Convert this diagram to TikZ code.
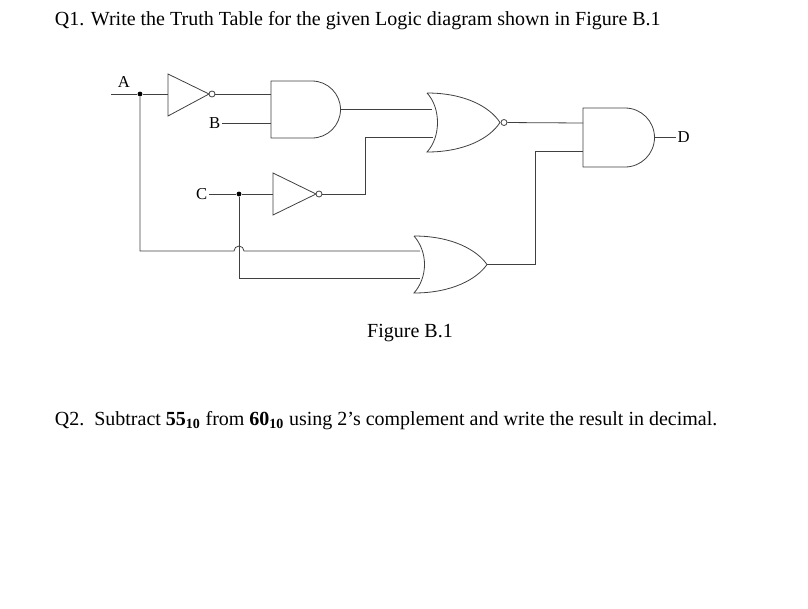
\documentclass[tikz,border=0pt]{standalone}
\usepackage{fontspec}
\setmainfont{Liberation Serif}
\begin{document}
\begin{tikzpicture}[x=0.75pt,y=-0.75pt,line width=0.6pt,
  wire/.style={draw=black!75},
  gate/.style={draw=black!75,fill=white},
  dot/.style={circle,fill=black,inner sep=1.3pt},
  bub/.style={circle,draw=black!75,fill=white,inner sep=1.6pt},
  lbl/.style={font=\fontsize{12.5}{14}\selectfont,inner sep=1pt},
  txt/.style={font=\fontsize{15}{17}\selectfont}]
\useasboundingbox (0,0) rectangle (808,608);

% texts
\node[anchor=west,txt] (q1) at (50,21) {Q1. Write the Truth Table for the given Logic diagram shown in Figure B.1};
\node[txt] (fig) at (410,333) {Figure B.1};
\node[anchor=west,txt] (q2) at (50,421) {Q2.\ \ Subtract \textbf{55\textsubscript{10}} from \textbf{60\textsubscript{10}} using 2's complement and write the result in decimal.};

% inputs
\node[lbl] (A) at (124,82) {A};
\node[lbl,anchor=east] (B) at (222,123) {B};
\node[lbl,anchor=east] (C) at (209,194) {C};
\coordinate (Ain) at (111,94);
\node[dot] (ja) at (140,94) {};
\node[dot] (jc) at (239,194) {};

% NOT gates
\draw[gate] (168,74) -- (209,94) -- (168,116) -- cycle;
\node[bub] (n1) at (212,94) {};
\draw[gate] (273,173) -- (316,194) -- (273,215) -- cycle;
\node[bub] (n2) at (319,194) {};

% AND 1
\draw[gate] (312,81) -- (271,81) -- (271,138) -- (312,138) arc (90:-90:28.5) -- cycle;
\coordinate (and1o) at (340.5,109.5);
% NOR
\draw[gate] (427,93) .. controls (441,108) and (441,137) .. (427,152)
  .. controls (465,152) and (490,138) .. (500,122.5)
  .. controls (490,107) and (465,93) .. (427,93);
\node[bub] (nor) at (504,122.5) {};
% AND 2
\draw[gate] (625,108) -- (583,108) -- (583,167) -- (625,167) arc (90:-90:29.5) -- cycle;
\coordinate (and2o) at (654.5,137.5);
% OR
\draw[gate] (414,236) .. controls (428,252) and (428,277) .. (414,293)
  .. controls (452,293) and (477,279) .. (487,264.5)
  .. controls (477,250) and (452,236) .. (414,236);
\coordinate (oro) at (487,264.5);

\node[lbl,anchor=west] (D) at (676,137.5) {D};

% wires
\draw[wire] (Ain) -- (ja) -- (168,94);
\draw[wire] (n1) -- (271,94);
\draw[wire] (B) -- (271,123);
\draw[wire] (and1o) -- (432,109.5);
\draw[wire] (C) -- (jc) -- (273,194);
\draw[wire] (n2) -- (365,194) -- (365,137) -- (433,137);
\draw[wire] (nor) -- (583,123);
\draw[wire] (oro) -- (535,264.5) -- (535,151) -- (583,151);
\draw[wire] (and2o) -- (D);
\draw[wire] (ja) -- (140,251) -- (234,251) arc (180:360:5) -- (420,251);
\draw[wire] (jc) -- (239,278) -- (420,278);
\end{tikzpicture}
\end{document}
